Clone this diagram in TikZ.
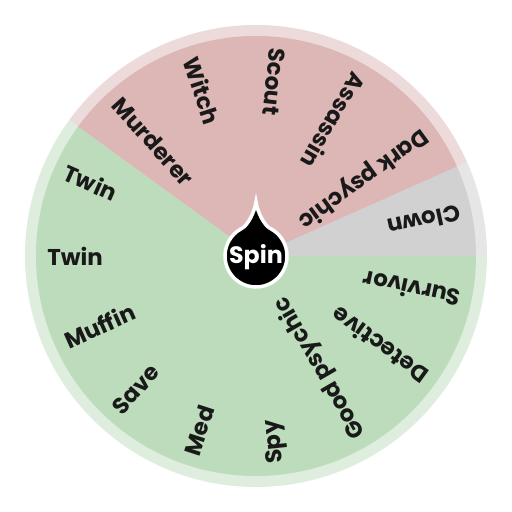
\documentclass[tikz,border=0pt]{standalone}
\usepackage{fontspec}
\setmainfont{Poppins}
\definecolor{redseg}{HTML}{DCB7B6}
\definecolor{greenseg}{HTML}{BCDCBB}
\definecolor{greyseg}{HTML}{D1D1D1}
\begin{document}
\begin{tikzpicture}[x=0.02cm, y=0.02cm,
  lbl/.style={anchor=west, inner sep=0pt, text=black!90, font=\fontsize{13}{13}\selectfont\bfseries}]
\useasboundingbox (-256,-256) rectangle (256,256);
% Rim
\fill[greyseg!55] (0,0) -- (0:231) arc (0:24:231) -- cycle;
\fill[redseg!50] (0,0) -- (24:231) arc (24:144:231) -- cycle;
\fill[greenseg!50] (0,0) -- (144:231) arc (144:360:231) -- cycle;
% Segments
\fill[greyseg] (0,0) -- (0:220) arc (0:24:220) -- cycle;
\fill[redseg] (0,0) -- (24:220) arc (24:144:220) -- cycle;
\fill[greenseg] (0,0) -- (144:220) arc (144:360:220) -- cycle;
% Labels
\foreach \name [count=\i] in {Clown,Dark psychic,Assassin,Scout,Witch,Murderer,Twin,Twin,Muffin,Save,Med,Spy,Good psychic,Detective,Survivor}
  \node[lbl, rotate={24*\i-12+180}] (role\i) at ({24*\i-12}:209) {\name};
% Spin button
\draw[fill=black, draw=white, line width=2pt]
  (0,54) .. controls (1.5,44) and (8,30) .. (60:31)
  arc (60:-240:31) .. controls (-8,30) and (-1.5,44) .. cycle;
\node[text=white, font=\fontsize{13.5}{13.5}\selectfont\bfseries] (spin) at (0,-1) {Spin};
\end{tikzpicture}
\end{document}
